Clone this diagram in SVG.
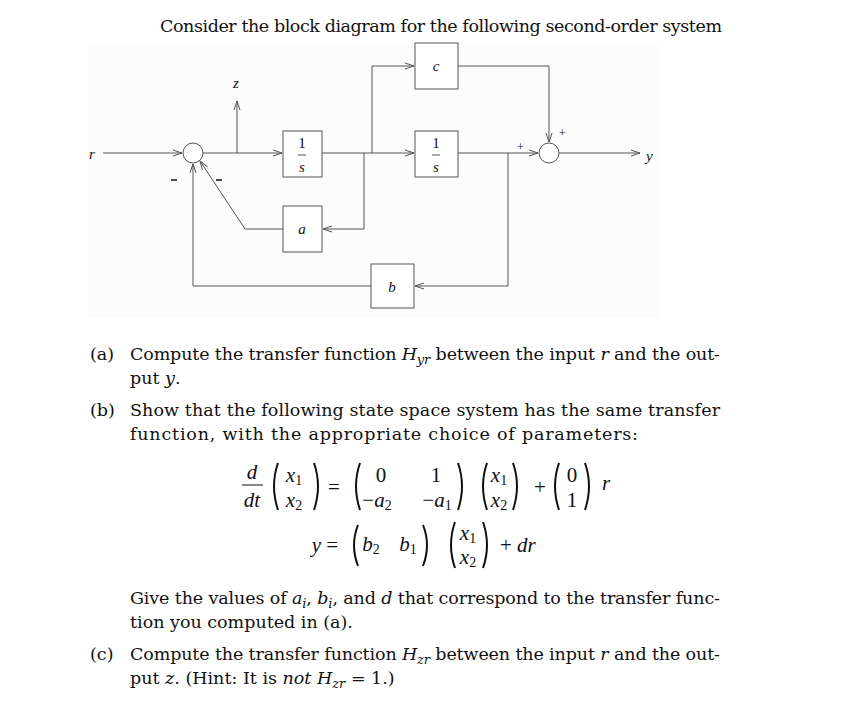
<svg xmlns="http://www.w3.org/2000/svg" width="855" height="718" viewBox="0 0 855 718">
<style>
text{font-family:"Liberation Serif","DejaVu Serif",serif;fill:#111}
.t{font-family:"DejaVu Serif","Liberation Serif",serif;font-size:17.5px}
.i{font-style:italic}
.s{font-size:15px}
.m{font-size:21px}
.b{fill:#fff;stroke:#555;stroke-width:1}
.l{fill:none;stroke:#555;stroke-width:1}
.p{fill:none;stroke:#111;stroke-width:2}
</style>
<defs><marker id="a" markerWidth="10" markerHeight="8" refX="9" refY="4" orient="auto" markerUnits="userSpaceOnUse"><path d="M0,1 L9,4 L0,7" fill="none" stroke="#555"/></marker></defs>
<rect width="855" height="718" fill="#fff"/>
<rect x="88" y="45" width="572" height="273" fill="#fcfcfc"/>
<text class="t" x="160" y="32" textLength="562">Consider the block diagram for the following second-order system</text>
<g id="connectors">
<path class="l" d="M103,153 H182" marker-end="url(#a)"/>
<path class="l" d="M203,153 H282" marker-end="url(#a)"/>
<path class="l" d="M237,153 V101" marker-end="url(#a)"/>
<path class="l" d="M322,153 H414" marker-end="url(#a)"/>
<path class="l" d="M364,153 V229 H323" marker-end="url(#a)"/>
<path class="l" d="M283,229 H245 L200,161" marker-end="url(#a)"/>
<path class="l" d="M372,153 V66 H414" marker-end="url(#a)"/>
<path class="l" d="M458,66 H549 V142" marker-end="url(#a)"/>
<path class="l" d="M458,153 H538" marker-end="url(#a)"/>
<path class="l" d="M508,153 V286 H415" marker-end="url(#a)"/>
<path class="l" d="M371,286 H193 V164" marker-end="url(#a)"/>
<path class="l" d="M559,153 H640" marker-end="url(#a)"/>
</g>
<g id="sum1"><circle class="b" cx="193" cy="153" r="10"/><path d="M171,180 H177 M216,180 H222" stroke="#111" stroke-width="1.5"/></g>
<g id="sum2"><circle class="b" cx="549" cy="153" r="10"/><text font-size="12" x="517" y="151">+</text><text font-size="12" x="559" y="137">+</text></g>
<g id="int1"><rect class="b" x="283" y="131" width="39" height="46"/><text class="s" x="302" y="148" text-anchor="middle">1</text><path class="l" d="M298,155 H306"/><text class="s i" x="302" y="172" text-anchor="middle">s</text></g>
<g id="int2"><rect class="b" x="415" y="131" width="43" height="46"/><text class="s" x="436" y="148" text-anchor="middle">1</text><path class="l" d="M432,155 H440"/><text class="s i" x="436" y="172" text-anchor="middle">s</text></g>
<g id="c"><rect class="b" x="415" y="43" width="43" height="46"/><text class="s i" x="436" y="71" text-anchor="middle">c</text></g>
<g id="ga"><rect class="b" x="283" y="206" width="39" height="46"/><text class="s i" x="302" y="234" text-anchor="middle">a</text></g>
<g id="gb"><rect class="b" x="371" y="264" width="43" height="44"/><text class="s i" x="392" y="292" text-anchor="middle">b</text></g>
<text class="s i" x="89" y="159">r</text>
<text class="s i" x="233" y="88">z</text>
<text class="s i" x="646" y="161">y</text>

<text class="t" x="90" y="360">(a)</text>
<text class="t" x="130" y="360" textLength="590">Compute the transfer function <tspan class="i">H</tspan><tspan class="i" font-size="13" dy="4">yr</tspan><tspan dy="-4"> between the input </tspan><tspan class="i">r</tspan> and the out-</text>
<text class="t" x="130" y="384">put <tspan class="i">y</tspan>.</text>
<text class="t" x="90" y="416">(b)</text>
<text class="t" x="130" y="416" textLength="590">Show that the following state space system has the same transfer</text>
<text class="t" x="130" y="440" textLength="508">function, with the appropriate choice of parameters:</text>

<g id="eq">
<text class="m i" x="252" y="479" text-anchor="middle">d</text>
<path d="M242,485 H263" stroke="#111" stroke-width="1"/>
<text class="m i" x="252" y="507" text-anchor="middle">dt</text>
<path class="p" d="M278,463 Q270,486 278,510 M314,463 Q322,486 314,510"/>
<text class="m i" x="294" y="482" text-anchor="middle">x<tspan font-size="14" dy="3" font-style="normal">1</tspan></text>
<text class="m i" x="294" y="507" text-anchor="middle">x<tspan font-size="14" dy="3" font-style="normal">2</tspan></text>
<text class="m" x="334" y="494" text-anchor="middle">=</text>
<path class="p" d="M360,463 Q352,486 360,510 M458,463 Q466,486 458,510"/>
<text class="m" x="381" y="482" text-anchor="middle">0</text>
<text class="m" x="436" y="482" text-anchor="middle">1</text>
<text class="m" x="377" y="507" text-anchor="middle">−<tspan class="i">a</tspan><tspan font-size="14" dy="3">2</tspan></text>
<text class="m" x="437" y="507" text-anchor="middle">−<tspan class="i">a</tspan><tspan font-size="14" dy="3">1</tspan></text>
<path class="p" d="M487,463 Q479,486 487,510 M513,463 Q521,486 513,510"/>
<text class="m i" x="499" y="482" text-anchor="middle">x<tspan font-size="14" dy="3" font-style="normal">1</tspan></text>
<text class="m i" x="499" y="507" text-anchor="middle">x<tspan font-size="14" dy="3" font-style="normal">2</tspan></text>
<text class="m" x="540" y="494" text-anchor="middle">+</text>
<path class="p" d="M559,463 Q551,486 559,510 M585,463 Q593,486 585,510"/>
<text class="m" x="572" y="482" text-anchor="middle">0</text>
<text class="m" x="572" y="507" text-anchor="middle">1</text>
<text class="m i" x="602" y="490">r</text>
<text class="m" x="325" y="552" text-anchor="middle"><tspan class="i">y</tspan> =</text>
<path class="p" d="M358,525 Q350,545 358,566 M423,525 Q431,545 423,566"/>
<text class="m" x="371" y="551" text-anchor="middle"><tspan class="i">b</tspan><tspan font-size="14" dy="3">2</tspan></text>
<text class="m" x="408" y="551" text-anchor="middle"><tspan class="i">b</tspan><tspan font-size="14" dy="3">1</tspan></text>
<path class="p" d="M455,522 Q447,545 455,568 M483,522 Q491,545 483,568"/>
<text class="m i" x="468" y="540" text-anchor="middle">x<tspan font-size="14" dy="3" font-style="normal">1</tspan></text>
<text class="m i" x="468" y="564" text-anchor="middle">x<tspan font-size="14" dy="3" font-style="normal">2</tspan></text>
<text class="m" x="500" y="552">+ <tspan class="i">dr</tspan></text>
</g>

<text class="t" x="130" y="604" textLength="590">Give the values of <tspan class="i">a</tspan><tspan class="i" font-size="13" dy="4">i</tspan><tspan dy="-4">, </tspan><tspan class="i">b</tspan><tspan class="i" font-size="13" dy="4">i</tspan><tspan dy="-4">, and </tspan><tspan class="i">d</tspan> that correspond to the transfer func-</text>
<text class="t" x="130" y="628">tion you computed in (a).</text>
<text class="t" x="90" y="660">(c)</text>
<text class="t" x="130" y="660" textLength="590">Compute the transfer function <tspan class="i">H</tspan><tspan class="i" font-size="13" dy="4">zr</tspan><tspan dy="-4"> between the input </tspan><tspan class="i">r</tspan> and the out-</text>
<text class="t" x="130" y="684">put <tspan class="i">z</tspan>. (Hint: It is <tspan class="i">not</tspan> <tspan class="i">H</tspan><tspan class="i" font-size="13" dy="4">zr</tspan><tspan dy="-4"> = 1.)</tspan></text>
</svg>
